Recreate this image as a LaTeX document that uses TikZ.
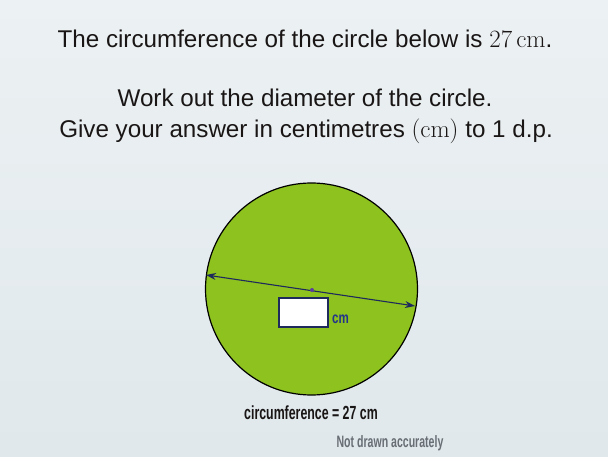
\documentclass[tikz,border=0pt]{standalone}
\usepackage[no-math]{fontspec}
\setmainfont{Liberation Sans}
\usepackage{graphicx}
\usetikzlibrary{arrows.meta}
\definecolor{bg}{HTML}{E0E8EC}
\definecolor{bgb}{HTML}{ECF1F3}
\definecolor{disc}{HTML}{8DC21F}
\definecolor{navy}{HTML}{1E2A5C}
\definecolor{dotc}{HTML}{5B3E9E}
\definecolor{cmblue}{HTML}{23358A}
\definecolor{grey}{HTML}{686E74}
\definecolor{ink}{HTML}{1A1616}
\tikzset{
  question/.style={font=\fontsize{24.2}{28}\selectfont, text=ink, inner sep=0pt, anchor=base},
  condensed/.style={inner sep=0pt, anchor=base},
  diam/.style={draw=navy, line width=1.1pt, {Stealth[length=10pt,width=7pt]}-{Stealth[length=10pt,width=7pt]}},
}
\begin{document}
\begin{tikzpicture}[x=1pt,y=-1pt]
\useasboundingbox (0,0) rectangle (608,457);
\shade[top color=bgb, bottom color=bg] (0,0) rectangle (608,457);
% question text
\node[question] (q1) at (305,48) {The circumference of the circle below is $27\,\mathrm{cm}$.};
\node[question] (q2) at (305,107) {Work out the diameter of the circle.};
\node[question] (q3) at (306,138) {Give your answer in centimetres $(\mathrm{cm})$ to 1 d.p.};
% circle
\node[circle, draw=black, line width=1.2pt, fill=disc, minimum size=212pt, inner sep=0pt] (c) at (311.5,289) {};
\coordinate (dl) at (206,275);
\coordinate (dr) at (415,306);
\draw[diam] (dl) -- (dr);
\node[circle, fill=dotc, minimum size=4pt, inner sep=0pt] (o) at (312,290) {};
\node[draw=navy, fill=white, line width=1.1pt, minimum width=49pt, minimum height=29pt, inner sep=0pt] (box) at (303.5,312.5) {};
\node[anchor=west, text=cmblue, inner sep=0pt, font=\bfseries\fontsize{16}{18}\selectfont] (u) at (332,319) {\scalebox{0.72}[1]{cm}};
% labels
\node[condensed, font=\bfseries\fontsize{19}{21}\selectfont, text=ink] (circ) at (311,419) {\scalebox{0.65}[1]{circumference = 27 cm}};
\node[condensed, font=\bfseries\fontsize{16.5}{18}\selectfont, text=grey] (nda) at (390,447) {\scalebox{0.64}[1]{Not drawn accurately}};
\end{tikzpicture}
\end{document}
